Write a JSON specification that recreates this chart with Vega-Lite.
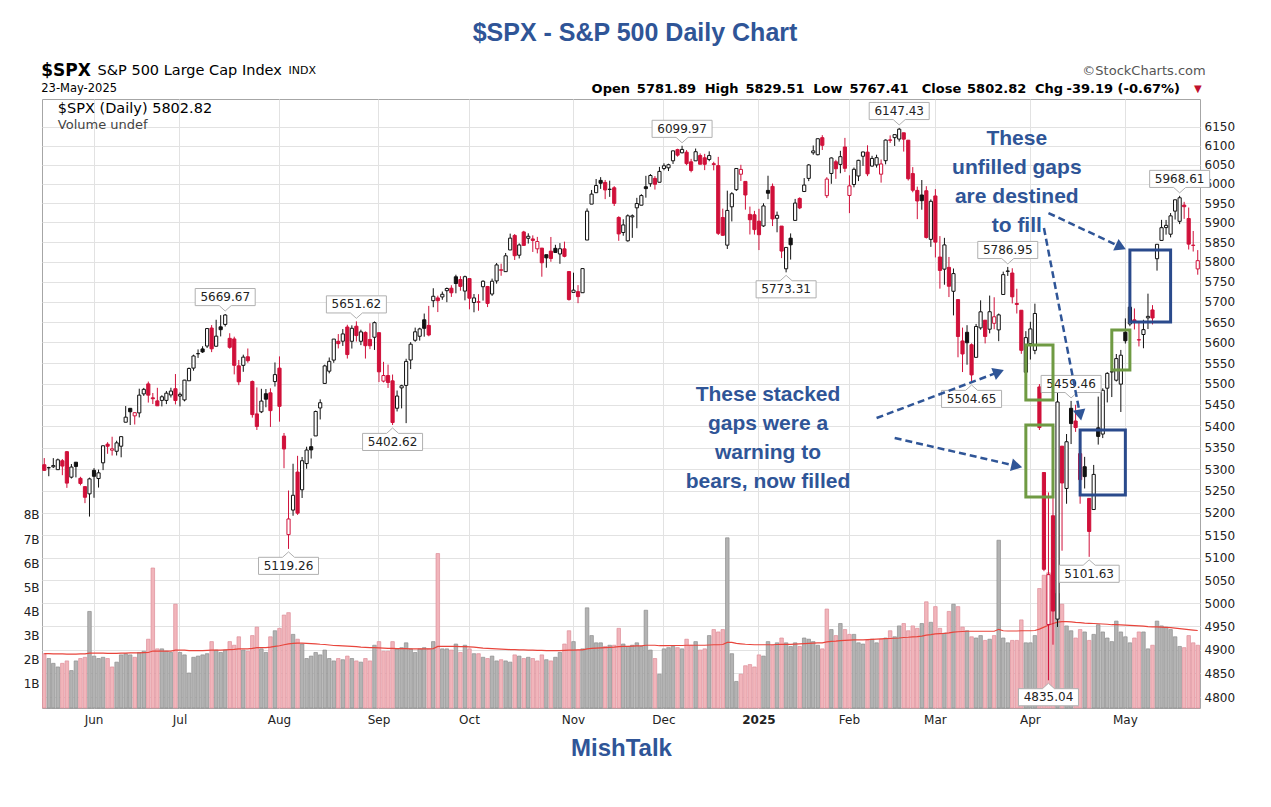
{
"$schema":"https://vega.github.io/schema/vega-lite/v6.json",
"width":1158,"height":609,
"autosize":{"type":"none"},
"padding":{"left":42,"top":99,"right":71,"bottom":99},
"background":"white",
"config":{"view":{"stroke":"#a6a6a6","strokeWidth":1},"font":"DejaVu Sans"},
"title":{"text":"$SPX - S&P 500 Daily Chart","font":"Liberation Sans","fontSize":25,"fontWeight":"bold","color":"#2F5597","anchor":"middle","dx":14,"offset":16},
"datasets":{"spx":[
{"d":"2024-05-16","o":5310.07,"h":5325.49,"l":5296.19,"c":5297.10,"v":2.25,"m":2.25},
{"d":"2024-05-17","o":5303.10,"h":5305.45,"l":5283.59,"c":5303.27,"v":2.05,"m":2.25},
{"d":"2024-05-20","o":5305.35,"h":5325.32,"l":5302.40,"c":5308.13,"v":1.85,"m":2.24},
{"d":"2024-05-21","o":5298.69,"h":5324.32,"l":5297.87,"c":5321.41,"v":1.7,"m":2.24},
{"d":"2024-05-22","o":5319.28,"h":5323.18,"l":5286.01,"c":5307.01,"v":1.85,"m":2.24},
{"d":"2024-05-23","o":5340.26,"h":5341.88,"l":5256.93,"c":5267.84,"v":1.95,"m":2.23},
{"d":"2024-05-24","o":5281.45,"h":5311.65,"l":5278.39,"c":5304.72,"v":1.55,"m":2.23},
{"d":"2024-05-28","o":5315.91,"h":5315.91,"l":5280.89,"c":5306.04,"v":1.95,"m":2.23},
{"d":"2024-05-29","o":5278.73,"h":5282.26,"l":5262.70,"c":5266.95,"v":2.05,"m":2.24},
{"d":"2024-05-30","o":5259.77,"h":5260.21,"l":5222.10,"c":5235.48,"v":2.1,"m":2.24},
{"d":"2024-05-31","o":5243.21,"h":5280.33,"l":5191.68,"c":5277.51,"v":4.0,"m":2.27},
{"d":"2024-06-03","o":5297.15,"h":5302.11,"l":5234.32,"c":5283.40,"v":2.15,"m":2.27},
{"d":"2024-06-04","o":5278.24,"h":5298.80,"l":5257.63,"c":5291.34,"v":2.05,"m":2.27},
{"d":"2024-06-05","o":5314.48,"h":5354.16,"l":5297.64,"c":5354.03,"v":2.1,"m":2.27},
{"d":"2024-06-06","o":5357.80,"h":5362.35,"l":5335.36,"c":5352.96,"v":2.05,"m":2.26},
{"d":"2024-06-07","o":5343.81,"h":5375.08,"l":5331.33,"c":5346.99,"v":1.7,"m":2.26},
{"d":"2024-06-10","o":5341.22,"h":5365.79,"l":5331.52,"c":5360.79,"v":1.9,"m":2.26},
{"d":"2024-06-11","o":5353.00,"h":5375.95,"l":5327.25,"c":5375.32,"v":2.2,"m":2.27},
{"d":"2024-06-12","o":5409.13,"h":5447.25,"l":5409.13,"c":5421.03,"v":2.25,"m":2.27},
{"d":"2024-06-13","o":5441.93,"h":5441.93,"l":5402.51,"c":5433.74,"v":2.2,"m":2.28},
{"d":"2024-06-14","o":5424.08,"h":5432.39,"l":5403.75,"c":5431.60,"v":2.1,"m":2.28},
{"d":"2024-06-17","o":5431.11,"h":5488.50,"l":5420.40,"c":5473.23,"v":2.3,"m":2.28},
{"d":"2024-06-18","o":5476.15,"h":5490.38,"l":5471.32,"c":5487.03,"v":2.35,"m":2.29},
{"d":"2024-06-20","o":5499.99,"h":5505.53,"l":5455.56,"c":5473.17,"v":2.85,"m":2.30},
{"d":"2024-06-21","o":5466.77,"h":5478.31,"l":5452.03,"c":5464.62,"v":5.8,"m":2.36},
{"d":"2024-06-24","o":5459.58,"h":5490.66,"l":5447.59,"c":5447.87,"v":2.45,"m":2.36},
{"d":"2024-06-25","o":5460.73,"h":5472.88,"l":5446.56,"c":5469.30,"v":2.45,"m":2.36},
{"d":"2024-06-26","o":5460.71,"h":5483.14,"l":5451.87,"c":5477.90,"v":2.35,"m":2.36},
{"d":"2024-06-27","o":5473.59,"h":5490.81,"l":5467.54,"c":5482.87,"v":2.3,"m":2.36},
{"d":"2024-06-28","o":5488.48,"h":5523.64,"l":5451.12,"c":5460.48,"v":4.3,"m":2.40},
{"d":"2024-07-01","o":5471.08,"h":5479.55,"l":5446.53,"c":5475.09,"v":2.3,"m":2.40},
{"d":"2024-07-02","o":5461.84,"h":5509.69,"l":5458.43,"c":5509.01,"v":2.2,"m":2.40},
{"d":"2024-07-03","o":5507.44,"h":5539.27,"l":5507.42,"c":5537.02,"v":1.45,"m":2.38},
{"d":"2024-07-05","o":5537.91,"h":5570.33,"l":5531.63,"c":5567.19,"v":2.1,"m":2.38},
{"d":"2024-07-08","o":5572.75,"h":5583.11,"l":5562.51,"c":5572.85,"v":2.15,"m":2.38},
{"d":"2024-07-09","o":5584.24,"h":5590.75,"l":5574.57,"c":5576.98,"v":2.2,"m":2.38},
{"d":"2024-07-10","o":5591.26,"h":5635.39,"l":5586.44,"c":5633.91,"v":2.25,"m":2.39},
{"d":"2024-07-11","o":5635.21,"h":5642.45,"l":5576.53,"c":5584.54,"v":2.75,"m":2.40},
{"d":"2024-07-12","o":5590.76,"h":5655.56,"l":5590.44,"c":5615.35,"v":2.4,"m":2.40},
{"d":"2024-07-15","o":5638.16,"h":5666.94,"l":5614.75,"c":5631.22,"v":2.3,"m":2.40},
{"d":"2024-07-16","o":5644.09,"h":5669.67,"l":5639.02,"c":5667.20,"v":2.4,"m":2.41},
{"d":"2024-07-17","o":5610.07,"h":5622.49,"l":5584.81,"c":5588.27,"v":2.75,"m":2.42},
{"d":"2024-07-18","o":5608.56,"h":5614.05,"l":5522.81,"c":5544.59,"v":2.6,"m":2.43},
{"d":"2024-07-19","o":5543.37,"h":5557.50,"l":5497.04,"c":5505.00,"v":2.95,"m":2.45},
{"d":"2024-07-22","o":5544.54,"h":5570.36,"l":5529.04,"c":5564.41,"v":2.4,"m":2.45},
{"d":"2024-07-23","o":5565.30,"h":5585.34,"l":5550.90,"c":5555.74,"v":2.35,"m":2.45},
{"d":"2024-07-24","o":5505.84,"h":5508.04,"l":5419.98,"c":5427.13,"v":3.0,"m":2.47},
{"d":"2024-07-25","o":5428.70,"h":5491.59,"l":5390.95,"c":5399.22,"v":3.35,"m":2.50},
{"d":"2024-07-26","o":5433.67,"h":5488.32,"l":5430.70,"c":5459.10,"v":2.45,"m":2.50},
{"d":"2024-07-29","o":5476.55,"h":5487.74,"l":5444.44,"c":5463.54,"v":2.3,"m":2.50},
{"d":"2024-07-30","o":5478.73,"h":5489.46,"l":5398.11,"c":5436.44,"v":2.95,"m":2.52},
{"d":"2024-07-31","o":5505.59,"h":5551.51,"l":5493.75,"c":5522.30,"v":3.2,"m":2.55},
{"d":"2024-08-01","o":5537.84,"h":5566.16,"l":5410.42,"c":5446.68,"v":3.3,"m":2.58},
{"d":"2024-08-02","o":5376.63,"h":5383.89,"l":5302.03,"c":5346.56,"v":3.85,"m":2.62},
{"d":"2024-08-05","o":5151.14,"h":5250.89,"l":5119.26,"c":5186.33,"v":3.95,"m":2.66},
{"d":"2024-08-06","o":5206.42,"h":5312.34,"l":5193.56,"c":5240.03,"v":3.05,"m":2.68},
{"d":"2024-08-07","o":5293.13,"h":5330.64,"l":5195.54,"c":5199.50,"v":2.85,"m":2.69},
{"d":"2024-08-08","o":5252.57,"h":5328.03,"l":5233.85,"c":5319.31,"v":2.65,"m":2.69},
{"d":"2024-08-09","o":5312.70,"h":5351.79,"l":5300.86,"c":5344.16,"v":2.05,"m":2.68},
{"d":"2024-08-12","o":5351.88,"h":5371.20,"l":5324.37,"c":5344.39,"v":2.15,"m":2.67},
{"d":"2024-08-13","o":5376.98,"h":5436.50,"l":5376.98,"c":5434.43,"v":2.3,"m":2.66},
{"d":"2024-08-14","o":5442.74,"h":5463.22,"l":5415.60,"c":5455.21,"v":2.2,"m":2.64},
{"d":"2024-08-15","o":5501.13,"h":5546.23,"l":5501.13,"c":5543.22,"v":2.4,"m":2.63},
{"d":"2024-08-16","o":5530.50,"h":5563.51,"l":5525.27,"c":5554.25,"v":2.05,"m":2.61},
{"d":"2024-08-19","o":5557.23,"h":5608.30,"l":5550.74,"c":5608.25,"v":1.95,"m":2.59},
{"d":"2024-08-20","o":5602.88,"h":5620.51,"l":5585.50,"c":5597.12,"v":2.05,"m":2.58},
{"d":"2024-08-21","o":5603.09,"h":5632.68,"l":5591.57,"c":5620.85,"v":2.0,"m":2.57},
{"d":"2024-08-22","o":5637.77,"h":5643.22,"l":5560.95,"c":5570.64,"v":2.15,"m":2.56},
{"d":"2024-08-23","o":5602.89,"h":5641.82,"l":5585.16,"c":5634.61,"v":2.05,"m":2.55},
{"d":"2024-08-26","o":5639.66,"h":5651.62,"l":5602.34,"c":5616.84,"v":1.95,"m":2.54},
{"d":"2024-08-27","o":5602.89,"h":5631.18,"l":5593.48,"c":5625.80,"v":1.9,"m":2.52},
{"d":"2024-08-28","o":5624.51,"h":5627.03,"l":5560.95,"c":5592.18,"v":2.05,"m":2.51},
{"d":"2024-08-29","o":5607.30,"h":5646.95,"l":5583.71,"c":5591.96,"v":1.95,"m":2.50},
{"d":"2024-08-30","o":5612.74,"h":5651.37,"l":5581.79,"c":5648.40,"v":2.6,"m":2.50},
{"d":"2024-09-03","o":5623.89,"h":5623.89,"l":5504.33,"c":5528.93,"v":2.75,"m":2.49},
{"d":"2024-09-04","o":5506.68,"h":5552.99,"l":5503.66,"c":5520.07,"v":2.35,"m":2.48},
{"d":"2024-09-05","o":5520.08,"h":5546.30,"l":5490.38,"c":5503.41,"v":2.35,"m":2.47},
{"d":"2024-09-06","o":5507.33,"h":5522.47,"l":5402.62,"c":5408.42,"v":2.75,"m":2.47},
{"d":"2024-09-09","o":5442.07,"h":5484.20,"l":5434.49,"c":5471.05,"v":2.45,"m":2.46},
{"d":"2024-09-10","o":5490.51,"h":5497.91,"l":5441.72,"c":5495.52,"v":2.5,"m":2.46},
{"d":"2024-09-11","o":5496.42,"h":5560.41,"l":5406.96,"c":5554.13,"v":2.7,"m":2.46},
{"d":"2024-09-12","o":5557.48,"h":5600.71,"l":5535.50,"c":5595.76,"v":2.45,"m":2.45},
{"d":"2024-09-13","o":5605.34,"h":5636.27,"l":5601.65,"c":5626.02,"v":2.3,"m":2.45},
{"d":"2024-09-16","o":5615.14,"h":5636.05,"l":5604.53,"c":5633.09,"v":2.45,"m":2.45},
{"d":"2024-09-17","o":5655.51,"h":5670.81,"l":5614.05,"c":5634.58,"v":2.5,"m":2.45},
{"d":"2024-09-18","o":5641.68,"h":5689.75,"l":5615.08,"c":5618.26,"v":2.45,"m":2.45},
{"d":"2024-09-19","o":5702.63,"h":5733.57,"l":5686.42,"c":5713.64,"v":2.75,"m":2.46},
{"d":"2024-09-20","o":5709.48,"h":5715.14,"l":5674.49,"c":5702.55,"v":6.4,"m":2.55},
{"d":"2024-09-23","o":5711.90,"h":5725.36,"l":5704.94,"c":5718.57,"v":2.45,"m":2.55},
{"d":"2024-09-24","o":5727.49,"h":5735.32,"l":5698.99,"c":5732.93,"v":2.45,"m":2.55},
{"d":"2024-09-25","o":5733.65,"h":5741.03,"l":5712.06,"c":5722.26,"v":2.4,"m":2.55},
{"d":"2024-09-26","o":5762.22,"h":5767.37,"l":5721.01,"c":5745.37,"v":2.65,"m":2.55},
{"d":"2024-09-27","o":5755.36,"h":5763.78,"l":5727.34,"c":5738.17,"v":2.3,"m":2.54},
{"d":"2024-09-30","o":5726.52,"h":5765.14,"l":5703.53,"c":5762.48,"v":2.6,"m":2.54},
{"d":"2024-10-01","o":5757.73,"h":5757.73,"l":5681.28,"c":5708.75,"v":2.45,"m":2.53},
{"d":"2024-10-02","o":5698.19,"h":5719.14,"l":5674.00,"c":5709.54,"v":2.25,"m":2.52},
{"d":"2024-10-03","o":5698.72,"h":5718.78,"l":5677.81,"c":5699.94,"v":2.25,"m":2.50},
{"d":"2024-10-04","o":5737.42,"h":5753.36,"l":5702.83,"c":5751.07,"v":2.1,"m":2.48},
{"d":"2024-10-07","o":5737.80,"h":5739.34,"l":5686.85,"c":5695.94,"v":2.05,"m":2.47},
{"d":"2024-10-08","o":5719.14,"h":5757.60,"l":5714.56,"c":5751.13,"v":2.15,"m":2.46},
{"d":"2024-10-09","o":5751.80,"h":5796.80,"l":5745.02,"c":5792.04,"v":1.95,"m":2.45},
{"d":"2024-10-10","o":5778.36,"h":5795.03,"l":5764.76,"c":5780.05,"v":2.0,"m":2.44},
{"d":"2024-10-11","o":5775.09,"h":5822.13,"l":5775.09,"c":5815.03,"v":1.95,"m":2.43},
{"d":"2024-10-14","o":5829.81,"h":5871.41,"l":5829.81,"c":5859.85,"v":1.9,"m":2.42},
{"d":"2024-10-15","o":5866.74,"h":5870.36,"l":5804.48,"c":5815.26,"v":2.2,"m":2.42},
{"d":"2024-10-16","o":5816.58,"h":5846.52,"l":5808.34,"c":5842.47,"v":2.15,"m":2.41},
{"d":"2024-10-17","o":5875.62,"h":5878.46,"l":5840.25,"c":5841.47,"v":2.05,"m":2.41},
{"d":"2024-10-18","o":5859.43,"h":5872.17,"l":5846.11,"c":5864.67,"v":2.1,"m":2.40},
{"d":"2024-10-21","o":5857.82,"h":5866.92,"l":5824.76,"c":5853.98,"v":2.05,"m":2.40},
{"d":"2024-10-22","o":5832.70,"h":5863.04,"l":5821.17,"c":5851.20,"v":1.95,"m":2.39},
{"d":"2024-10-23","o":5834.50,"h":5834.85,"l":5762.41,"c":5797.42,"v":2.2,"m":2.39},
{"d":"2024-10-24","o":5817.80,"h":5817.80,"l":5784.92,"c":5809.86,"v":2.0,"m":2.38},
{"d":"2024-10-25","o":5826.75,"h":5862.82,"l":5799.98,"c":5808.12,"v":1.95,"m":2.38},
{"d":"2024-10-28","o":5833.93,"h":5842.92,"l":5823.08,"c":5823.52,"v":2.1,"m":2.38},
{"d":"2024-10-29","o":5819.68,"h":5847.19,"l":5794.86,"c":5832.92,"v":2.3,"m":2.38},
{"d":"2024-10-30","o":5832.65,"h":5850.94,"l":5811.28,"c":5813.67,"v":2.65,"m":2.39},
{"d":"2024-10-31","o":5775.34,"h":5775.34,"l":5702.86,"c":5705.45,"v":3.2,"m":2.40},
{"d":"2024-11-01","o":5723.22,"h":5772.52,"l":5723.22,"c":5728.80,"v":2.75,"m":2.40},
{"d":"2024-11-04","o":5725.15,"h":5741.43,"l":5696.51,"c":5712.69,"v":2.4,"m":2.41},
{"d":"2024-11-05","o":5722.43,"h":5783.44,"l":5722.10,"c":5782.76,"v":2.45,"m":2.41},
{"d":"2024-11-06","o":5855.02,"h":5936.14,"l":5855.02,"c":5929.04,"v":4.15,"m":2.45},
{"d":"2024-11-07","o":5947.21,"h":5983.84,"l":5947.21,"c":5973.10,"v":3.0,"m":2.47},
{"d":"2024-11-08","o":5976.76,"h":6012.45,"l":5976.76,"c":5995.54,"v":2.7,"m":2.48},
{"d":"2024-11-11","o":6008.86,"h":6017.31,"l":5986.69,"c":6001.35,"v":2.7,"m":2.49},
{"d":"2024-11-12","o":6003.60,"h":6009.92,"l":5960.08,"c":5983.99,"v":2.55,"m":2.50},
{"d":"2024-11-13","o":5985.75,"h":6008.19,"l":5965.91,"c":5985.38,"v":2.6,"m":2.51},
{"d":"2024-11-14","o":5989.58,"h":5993.88,"l":5942.28,"c":5949.17,"v":2.6,"m":2.52},
{"d":"2024-11-15","o":5912.79,"h":5915.79,"l":5853.01,"c":5870.62,"v":3.3,"m":2.54},
{"d":"2024-11-18","o":5874.17,"h":5908.12,"l":5865.95,"c":5893.62,"v":2.65,"m":2.55},
{"d":"2024-11-19","o":5853.08,"h":5920.67,"l":5850.89,"c":5916.98,"v":2.55,"m":2.55},
{"d":"2024-11-20","o":5914.21,"h":5920.67,"l":5860.58,"c":5917.11,"v":2.6,"m":2.56},
{"d":"2024-11-21","o":5937.59,"h":5963.44,"l":5885.12,"c":5948.71,"v":2.7,"m":2.57},
{"d":"2024-11-22","o":5944.36,"h":5972.90,"l":5944.36,"c":5969.34,"v":2.55,"m":2.57},
{"d":"2024-11-25","o":5992.28,"h":6020.75,"l":5963.91,"c":5987.37,"v":4.05,"m":2.60},
{"d":"2024-11-26","o":6000.03,"h":6025.42,"l":5992.27,"c":6021.63,"v":2.4,"m":2.60},
{"d":"2024-11-27","o":6014.11,"h":6020.16,"l":5984.87,"c":5998.74,"v":2.05,"m":2.60},
{"d":"2024-11-29","o":6003.98,"h":6044.17,"l":6003.98,"c":6032.38,"v":1.4,"m":2.58},
{"d":"2024-12-02","o":6040.11,"h":6053.58,"l":6035.33,"c":6047.15,"v":2.45,"m":2.58},
{"d":"2024-12-03","o":6041.79,"h":6052.56,"l":6033.31,"c":6049.88,"v":2.5,"m":2.58},
{"d":"2024-12-04","o":6060.28,"h":6086.97,"l":6051.97,"c":6086.49,"v":2.55,"m":2.59},
{"d":"2024-12-05","o":6089.84,"h":6092.09,"l":6071.23,"c":6075.11,"v":2.5,"m":2.59},
{"d":"2024-12-06","o":6081.38,"h":6099.97,"l":6079.98,"c":6090.27,"v":2.45,"m":2.59},
{"d":"2024-12-09","o":6083.01,"h":6088.51,"l":6048.63,"c":6052.85,"v":2.85,"m":2.60},
{"d":"2024-12-10","o":6057.59,"h":6065.40,"l":6029.89,"c":6034.91,"v":2.6,"m":2.60},
{"d":"2024-12-11","o":6060.14,"h":6092.59,"l":6060.14,"c":6084.19,"v":2.75,"m":2.60},
{"d":"2024-12-12","o":6074.29,"h":6079.68,"l":6051.25,"c":6051.25,"v":2.4,"m":2.60},
{"d":"2024-12-13","o":6068.17,"h":6078.58,"l":6035.77,"c":6051.09,"v":2.45,"m":2.60},
{"d":"2024-12-16","o":6063.79,"h":6085.19,"l":6059.14,"c":6074.08,"v":3.0,"m":2.61},
{"d":"2024-12-17","o":6052.55,"h":6057.68,"l":6035.19,"c":6050.61,"v":3.25,"m":2.62},
{"d":"2024-12-18","o":6047.65,"h":6070.67,"l":5867.79,"c":5872.16,"v":3.15,"m":2.62},
{"d":"2024-12-19","o":5912.71,"h":5935.52,"l":5866.07,"c":5867.08,"v":3.25,"m":2.63},
{"d":"2024-12-20","o":5842.00,"h":5982.06,"l":5832.30,"c":5930.85,"v":7.05,"m":2.72},
{"d":"2024-12-23","o":5940.25,"h":5978.25,"l":5902.57,"c":5974.07,"v":2.25,"m":2.72},
{"d":"2024-12-24","o":5984.63,"h":6040.10,"l":5981.44,"c":6040.04,"v":1.1,"m":2.68},
{"d":"2024-12-26","o":6024.97,"h":6049.75,"l":6007.37,"c":6037.59,"v":1.4,"m":2.66},
{"d":"2024-12-27","o":6006.17,"h":6006.17,"l":5932.95,"c":5970.84,"v":1.75,"m":2.64},
{"d":"2024-12-30","o":5920.67,"h":5940.79,"l":5869.16,"c":5906.94,"v":1.8,"m":2.63},
{"d":"2024-12-31","o":5919.74,"h":5929.74,"l":5868.86,"c":5881.63,"v":1.7,"m":2.62},
{"d":"2025-01-02","o":5903.26,"h":5935.09,"l":5829.53,"c":5868.55,"v":2.2,"m":2.62},
{"d":"2025-01-03","o":5891.07,"h":5949.34,"l":5888.66,"c":5942.47,"v":2.15,"m":2.62},
{"d":"2025-01-06","o":5982.81,"h":6021.04,"l":5960.01,"c":5975.38,"v":2.75,"m":2.62},
{"d":"2025-01-07","o":5993.26,"h":6000.68,"l":5890.68,"c":5909.03,"v":2.6,"m":2.62},
{"d":"2025-01-08","o":5910.66,"h":5927.89,"l":5874.78,"c":5918.25,"v":2.7,"m":2.63},
{"d":"2025-01-10","o":5890.66,"h":5890.66,"l":5809.22,"c":5827.04,"v":2.9,"m":2.64},
{"d":"2025-01-13","o":5782.30,"h":5836.56,"l":5773.31,"c":5836.22,"v":2.7,"m":2.64},
{"d":"2025-01-14","o":5859.84,"h":5871.92,"l":5805.51,"c":5842.91,"v":2.55,"m":2.64},
{"d":"2025-01-15","o":5905.24,"h":5960.61,"l":5905.24,"c":5949.91,"v":2.7,"m":2.65},
{"d":"2025-01-16","o":5961.90,"h":5964.69,"l":5934.23,"c":5937.34,"v":2.55,"m":2.66},
{"d":"2025-01-17","o":5979.87,"h":6014.96,"l":5978.44,"c":5996.66,"v":2.9,"m":2.67},
{"d":"2025-01-21","o":6014.12,"h":6051.51,"l":6006.88,"c":6049.24,"v":2.85,"m":2.68},
{"d":"2025-01-22","o":6081.39,"h":6100.81,"l":6076.13,"c":6086.37,"v":2.75,"m":2.69},
{"d":"2025-01-23","o":6076.32,"h":6118.73,"l":6074.67,"c":6118.71,"v":2.6,"m":2.70},
{"d":"2025-01-24","o":6121.43,"h":6128.18,"l":6088.74,"c":6101.24,"v":2.45,"m":2.70},
{"d":"2025-01-27","o":5969.04,"h":6017.17,"l":5962.92,"c":6012.28,"v":4.1,"m":2.74},
{"d":"2025-01-28","o":6026.97,"h":6069.32,"l":6000.00,"c":6067.70,"v":3.25,"m":2.76},
{"d":"2025-01-29","o":6057.70,"h":6062.83,"l":6012.96,"c":6039.31,"v":3.0,"m":2.77},
{"d":"2025-01-30","o":6050.75,"h":6086.64,"l":6027.46,"c":6071.17,"v":3.5,"m":2.79},
{"d":"2025-01-31","o":6096.79,"h":6120.91,"l":6030.93,"c":6040.53,"v":3.25,"m":2.80},
{"d":"2025-02-03","o":5969.65,"h":6022.13,"l":5923.93,"c":5994.57,"v":3.05,"m":2.81},
{"d":"2025-02-04","o":5998.14,"h":6042.48,"l":5990.87,"c":6037.88,"v":3.05,"m":2.82},
{"d":"2025-02-05","o":6020.45,"h":6062.86,"l":6007.06,"c":6061.48,"v":2.7,"m":2.82},
{"d":"2025-02-06","o":6072.22,"h":6084.03,"l":6046.83,"c":6083.57,"v":2.65,"m":2.82},
{"d":"2025-02-07","o":6083.13,"h":6101.28,"l":6019.96,"c":6025.99,"v":2.8,"m":2.83},
{"d":"2025-02-10","o":6046.40,"h":6073.38,"l":6044.84,"c":6066.44,"v":2.85,"m":2.84},
{"d":"2025-02-11","o":6049.32,"h":6076.28,"l":6042.34,"c":6068.50,"v":2.7,"m":2.85},
{"d":"2025-02-12","o":6025.08,"h":6063.63,"l":6003.00,"c":6051.97,"v":2.85,"m":2.86},
{"d":"2025-02-13","o":6060.59,"h":6116.91,"l":6050.95,"c":6115.07,"v":2.9,"m":2.87},
{"d":"2025-02-14","o":6115.52,"h":6127.47,"l":6107.62,"c":6114.63,"v":3.2,"m":2.88},
{"d":"2025-02-18","o":6121.60,"h":6129.63,"l":6099.51,"c":6129.58,"v":2.95,"m":2.89},
{"d":"2025-02-19","o":6117.76,"h":6147.43,"l":6111.15,"c":6144.15,"v":3.4,"m":2.90},
{"d":"2025-02-20","o":6134.50,"h":6134.50,"l":6084.59,"c":6117.52,"v":3.5,"m":2.92},
{"d":"2025-02-21","o":6114.82,"h":6114.82,"l":6008.56,"c":6013.13,"v":3.2,"m":2.93},
{"d":"2025-02-24","o":6026.69,"h":6043.65,"l":5977.83,"c":5983.25,"v":3.4,"m":2.95},
{"d":"2025-02-25","o":5982.73,"h":5992.65,"l":5908.49,"c":5955.25,"v":3.3,"m":2.96},
{"d":"2025-02-26","o":5970.87,"h":6009.82,"l":5932.69,"c":5956.06,"v":3.5,"m":2.98},
{"d":"2025-02-27","o":5981.88,"h":5993.69,"l":5858.78,"c":5861.57,"v":4.4,"m":3.02},
{"d":"2025-02-28","o":5856.74,"h":5959.40,"l":5837.66,"c":5954.50,"v":3.55,"m":3.04},
{"d":"2025-03-03","o":5968.33,"h":5986.09,"l":5810.91,"c":5849.72,"v":4.2,"m":3.07},
{"d":"2025-03-04","o":5811.98,"h":5865.08,"l":5732.59,"c":5778.15,"v":3.3,"m":3.08},
{"d":"2025-03-05","o":5781.38,"h":5860.59,"l":5742.35,"c":5842.63,"v":3.1,"m":3.09},
{"d":"2025-03-06","o":5785.87,"h":5812.08,"l":5711.64,"c":5738.52,"v":4.0,"m":3.11},
{"d":"2025-03-07","o":5726.01,"h":5783.01,"l":5666.29,"c":5770.20,"v":4.3,"m":3.14},
{"d":"2025-03-10","o":5705.37,"h":5705.37,"l":5564.02,"c":5614.56,"v":4.2,"m":3.16},
{"d":"2025-03-11","o":5603.65,"h":5636.30,"l":5528.41,"c":5572.07,"v":3.35,"m":3.17},
{"d":"2025-03-12","o":5624.84,"h":5642.19,"l":5546.09,"c":5599.30,"v":3.2,"m":3.18},
{"d":"2025-03-13","o":5594.45,"h":5597.78,"l":5504.65,"c":5521.52,"v":2.95,"m":3.18},
{"d":"2025-03-14","o":5563.85,"h":5645.27,"l":5563.85,"c":5638.94,"v":2.9,"m":3.18},
{"d":"2025-03-17","o":5635.60,"h":5703.52,"l":5631.12,"c":5675.12,"v":3.0,"m":3.18},
{"d":"2025-03-18","o":5654.53,"h":5654.53,"l":5597.76,"c":5614.66,"v":2.8,"m":3.18},
{"d":"2025-03-19","o":5632.37,"h":5715.33,"l":5622.20,"c":5675.29,"v":2.85,"m":3.18},
{"d":"2025-03-20","o":5646.92,"h":5711.15,"l":5632.33,"c":5662.89,"v":3.0,"m":3.18},
{"d":"2025-03-21","o":5630.73,"h":5670.84,"l":5603.10,"c":5667.56,"v":6.95,"m":3.26},
{"d":"2025-03-24","o":5718.08,"h":5775.14,"l":5718.08,"c":5767.57,"v":2.9,"m":3.20},
{"d":"2025-03-25","o":5775.86,"h":5786.95,"l":5764.44,"c":5776.65,"v":2.7,"m":3.19},
{"d":"2025-03-26","o":5771.66,"h":5783.62,"l":5695.87,"c":5712.20,"v":2.8,"m":3.19},
{"d":"2025-03-27","o":5695.64,"h":5732.28,"l":5670.94,"c":5693.31,"v":2.8,"m":3.19},
{"d":"2025-03-28","o":5679.00,"h":5679.00,"l":5572.42,"c":5580.94,"v":3.65,"m":3.20},
{"d":"2025-03-31","o":5527.91,"h":5627.56,"l":5488.73,"c":5611.85,"v":2.7,"m":3.20},
{"d":"2025-04-01","o":5597.53,"h":5650.57,"l":5558.52,"c":5633.07,"v":2.7,"m":3.20},
{"d":"2025-04-02","o":5580.76,"h":5695.31,"l":5571.48,"c":5670.97,"v":3.0,"m":3.21},
{"d":"2025-04-03","o":5492.74,"h":5499.53,"l":5390.83,"c":5396.52,"v":4.95,"m":3.27},
{"d":"2025-04-04","o":5292.14,"h":5292.14,"l":5069.90,"c":5074.08,"v":5.5,"m":3.35},
{"d":"2025-04-07","o":4953.79,"h":5246.57,"l":4835.04,"c":5062.25,"v":5.6,"m":3.43},
{"d":"2025-04-08","o":5193.57,"h":5267.47,"l":4910.42,"c":4982.77,"v":4.9,"m":3.50},
{"d":"2025-04-09","o":4965.28,"h":5481.34,"l":4948.43,"c":5456.90,"v":4.75,"m":3.56},
{"d":"2025-04-10","o":5353.15,"h":5353.15,"l":5115.27,"c":5268.05,"v":4.3,"m":3.58},
{"d":"2025-04-11","o":5255.56,"h":5381.46,"l":5220.77,"c":5363.36,"v":3.4,"m":3.58},
{"d":"2025-04-14","o":5441.96,"h":5459.46,"l":5358.02,"c":5405.97,"v":3.2,"m":3.57},
{"d":"2025-04-15","o":5411.99,"h":5450.41,"l":5386.44,"c":5396.63,"v":2.9,"m":3.55},
{"d":"2025-04-16","o":5335.75,"h":5367.24,"l":5220.79,"c":5275.70,"v":3.25,"m":3.54},
{"d":"2025-04-17","o":5305.45,"h":5328.31,"l":5255.58,"c":5282.70,"v":3.15,"m":3.52},
{"d":"2025-04-21","o":5232.94,"h":5232.94,"l":5101.63,"c":5158.20,"v":2.8,"m":3.51},
{"d":"2025-04-22","o":5207.67,"h":5309.60,"l":5207.67,"c":5287.76,"v":3.05,"m":3.50},
{"d":"2025-04-23","o":5395.93,"h":5469.69,"l":5356.76,"c":5375.86,"v":3.45,"m":3.49},
{"d":"2025-04-24","o":5381.38,"h":5489.40,"l":5371.96,"c":5484.77,"v":3.15,"m":3.48},
{"d":"2025-04-25","o":5489.73,"h":5528.11,"l":5455.86,"c":5525.21,"v":2.9,"m":3.47},
{"d":"2025-04-28","o":5529.22,"h":5553.66,"l":5468.64,"c":5528.75,"v":2.75,"m":3.45},
{"d":"2025-04-29","o":5508.87,"h":5571.95,"l":5505.70,"c":5560.83,"v":3.6,"m":3.45},
{"d":"2025-04-30","o":5499.44,"h":5581.84,"l":5433.24,"c":5569.06,"v":3.15,"m":3.44},
{"d":"2025-05-01","o":5625.14,"h":5658.91,"l":5597.35,"c":5604.14,"v":2.95,"m":3.43},
{"d":"2025-05-02","o":5645.09,"h":5700.70,"l":5639.57,"c":5686.67,"v":2.7,"m":3.42},
{"d":"2025-05-05","o":5655.32,"h":5683.48,"l":5631.69,"c":5650.38,"v":2.9,"m":3.41},
{"d":"2025-05-06","o":5605.88,"h":5649.02,"l":5590.28,"c":5606.91,"v":3.15,"m":3.40},
{"d":"2025-05-07","o":5619.42,"h":5655.48,"l":5585.91,"c":5631.28,"v":3.15,"m":3.39},
{"d":"2025-05-08","o":5660.25,"h":5720.10,"l":5632.72,"c":5663.94,"v":2.45,"m":3.37},
{"d":"2025-05-09","o":5679.73,"h":5691.65,"l":5644.05,"c":5659.91,"v":2.6,"m":3.36},
{"d":"2025-05-12","o":5807.65,"h":5844.19,"l":5777.66,"c":5844.19,"v":3.6,"m":3.36},
{"d":"2025-05-13","o":5854.04,"h":5906.63,"l":5853.15,"c":5886.55,"v":3.4,"m":3.35},
{"d":"2025-05-14","o":5886.76,"h":5906.38,"l":5868.76,"c":5892.58,"v":3.35,"m":3.34},
{"d":"2025-05-15","o":5869.90,"h":5924.12,"l":5861.83,"c":5916.93,"v":3.25,"m":3.33},
{"d":"2025-05-16","o":5929.09,"h":5958.62,"l":5907.39,"c":5958.38,"v":2.95,"m":3.31},
{"d":"2025-05-19","o":5902.88,"h":5968.61,"l":5895.69,"c":5963.60,"v":2.55,"m":3.29},
{"d":"2025-05-20","o":5944.66,"h":5953.06,"l":5909.26,"c":5940.46,"v":2.5,"m":3.27},
{"d":"2025-05-21","o":5910.08,"h":5938.37,"l":5830.91,"c":5844.61,"v":3.0,"m":3.25},
{"d":"2025-05-22","o":5841.26,"h":5878.08,"l":5825.82,"c":5842.01,"v":2.7,"m":3.23},
{"d":"2025-05-23","o":5781.89,"h":5829.51,"l":5767.41,"c":5802.82,"v":2.6,"m":3.21}
]},
"data":{"name":"spx"},
"transform":[
{"window":[{"op":"lag","field":"c","as":"pc"}],"sort":[{"field":"d","order":"ascending"}]},
{"calculate":"(datum.pc == null ? datum.c < datum.o : datum.c < datum.pc) ? 'down' : 'up'","as":"dir"}
],
"layer":[
{"layer":[
{"mark":{"type":"bar","width":{"band":0.78},"strokeWidth":0.7},
"encoding":{
"x":{"field":"d","type":"ordinal","scale":{"type":"band","paddingInner":0,"paddingOuter":0},
"axis":{"values":["2024-06-03","2024-07-01","2024-08-01","2024-09-03","2024-10-01","2024-11-01","2024-12-02","2025-01-02","2025-02-03","2025-03-03","2025-04-01","2025-05-01"],
"labelExpr":"utcFormat(toDate(datum.value), '%m') == '01' ? utcFormat(toDate(datum.value), '%Y') : utcFormat(toDate(datum.value), '%b')",
"title":"MishTalk","titleFont":"Liberation Sans","titleFontSize":24,"titleFontWeight":"bold","titleColor":"#2F5597","titlePadding":11,
"labelFont":"DejaVu Sans","labelFontSize":12,"labelColor":"#222222",
"labelFontWeight":{"condition":{"test":"datum.value == '2025-01-02'","value":"bold"},"value":"normal"},
"labelAngle":0,"grid":true,"gridColor":"#e2e2e2","ticks":false,"domain":false,"labelPadding":6,"bandPosition":0.5}},
"y":{"field":"v","type":"quantitative","scale":{"domain":[0,25.23],"nice":false},
"axis":{"orient":"left","values":[1,2,3,4,5,6,7,8],"labelExpr":"datum.value + 'B'","title":null,"grid":false,"domain":false,"ticks":false,"labelPadding":3,"labelFont":"DejaVu Sans","labelFontSize":12,"labelColor":"#222222"}},
"fill":{"field":"dir","type":"nominal","scale":{"domain":["up","down"],"range":["#b3b3b3","#f1b5bb"]},"legend":null},
"stroke":{"field":"dir","type":"nominal","scale":{"domain":["up","down"],"range":["#8e8e8e","#de8e99"]},"legend":null}}},
{"mark":{"type":"line","color":"#e8453c","strokeWidth":1.2},
"encoding":{"x":{"field":"d","type":"ordinal"},"y":{"field":"m","type":"quantitative"}}}
]},
{"layer":[
{"mark":{"type":"rule","strokeWidth":1},
"encoding":{
"x":{"field":"d","type":"ordinal"},
"y":{"field":"l","type":"quantitative","scale":{"type":"log","domain":[4777.1,6225.3],"nice":false,"zero":false},
"axis":{"orient":"right","values":[4800,4850,4900,4950,5000,5050,5100,5150,5200,5250,5300,5350,5400,5450,5500,5550,5600,5650,5700,5750,5800,5850,5900,5950,6000,6050,6100,6150],"format":"d","title":null,"grid":true,"gridColor":"#e2e2e2","domain":false,"ticks":false,"labelPadding":4,"labelFont":"DejaVu Sans","labelFontSize":12,"labelColor":"#222222"}},
"y2":{"field":"h"},
"stroke":{"field":"dir","type":"nominal","scale":{"domain":["up","down"],"range":["#111111","#d0103a"]},"legend":null}}},
{"mark":{"type":"bar","width":{"band":0.7},"strokeWidth":1},
"encoding":{
"x":{"field":"d","type":"ordinal"},
"y":{"field":"o","type":"quantitative"},
"y2":{"field":"c"},
"fill":{"condition":{"test":"datum.c > datum.o","value":"#ffffff"},"field":"dir","type":"nominal","scale":{"domain":["up","down"],"range":["#111111","#d0103a"]},"legend":null},
"stroke":{"field":"dir","type":"nominal","legend":null}}},
{"data":{"values":[{"d":"2024-07-16","p":5669.67,"t":"5669.67"},{"d":"2024-08-26","p":5651.62,"t":"5651.62"},{"d":"2024-12-06","p":6099.97,"t":"6099.97"},{"d":"2025-02-19","p":6147.43,"t":"6147.43"},{"d":"2025-03-25","p":5786.95,"t":"5786.95"},{"d":"2025-04-14","p":5459.46,"t":"5459.46"},{"d":"2025-05-19","p":5968.61,"t":"5968.61"}]},
"layer":[
{"mark":{"type":"point","shape":"M-1,-0.85L1,-0.85L1,-0.28L0.2,-0.28L0,-0.1L-0.2,-0.28L-1,-0.28Z","size":3600,"filled":true,"fill":"#ffffff","stroke":"#b0b0b0","strokeWidth":1,"opacity":1},
"encoding":{"x":{"field":"d","type":"ordinal"},"y":{"field":"p","type":"quantitative"}}},
{"mark":{"type":"text","dy":-17,"font":"DejaVu Sans","fontSize":12,"color":"#222222","baseline":"middle","align":"center"},
"encoding":{"x":{"field":"d","type":"ordinal"},"y":{"field":"p","type":"quantitative"},"text":{"field":"t"}}}
]},
{"data":{"values":[{"d":"2024-08-05","p":5119.26,"t":"5119.26"},{"d":"2024-09-06","p":5402.62,"t":"5402.62"},{"d":"2025-01-13","p":5773.31,"t":"5773.31"},{"d":"2025-03-13","p":5504.65,"t":"5504.65"},{"d":"2025-04-07","p":4835.04,"t":"4835.04"},{"d":"2025-04-21","p":5101.63,"t":"5101.63"}]},
"layer":[
{"mark":{"type":"point","shape":"M-1,0.85L1,0.85L1,0.28L0.2,0.28L0,0.1L-0.2,0.28L-1,0.28Z","size":3600,"filled":true,"fill":"#ffffff","stroke":"#b0b0b0","strokeWidth":1,"opacity":1},
"encoding":{"x":{"field":"d","type":"ordinal"},"y":{"field":"p","type":"quantitative"}}},
{"mark":{"type":"text","dy":17,"font":"DejaVu Sans","fontSize":12,"color":"#222222","baseline":"middle","align":"center"},
"encoding":{"x":{"field":"d","type":"ordinal"},"y":{"field":"p","type":"quantitative"},"text":{"field":"t"}}}
]},
{"data":{"values":[{"d1":"2025-03-31","d2":"2025-04-08","p1":5593.8,"p2":5461.6},{"d1":"2025-03-31","d2":"2025-04-08","p1":5402.5,"p2":5236.0},{"d1":"2025-04-28","d2":"2025-05-02","p1":5630.5,"p2":5533.3}]},
"mark":{"type":"rect","fillOpacity":0,"fill":"#ffffff","stroke":"#6f9a43","strokeWidth":3},
"encoding":{"x":{"field":"d1","type":"ordinal","bandPosition":0.5},"x2":{"field":"d2"},"y":{"field":"p1","type":"quantitative"},"y2":{"field":"p2"}}},
{"data":{"values":[{"d1":"2025-04-16","d2":"2025-05-01","p1":5390.8,"p2":5240.6},{"d1":"2025-05-02","d2":"2025-05-15","p1":5829.7,"p2":5650.1}]},
"mark":{"type":"rect","fillOpacity":0,"fill":"#ffffff","stroke":"#2a4a8c","strokeWidth":3},
"encoding":{"x":{"field":"d1","type":"ordinal","bandPosition":0.5},"x2":{"field":"d2"},"y":{"field":"p1","type":"quantitative"},"y2":{"field":"p2"}}},
{"data":{"values":[{"d1":"2025-04-07","p1":5924.2,"d2":"2025-04-30","p2":5837.3},{"d1":"2025-04-04","p1":5885.7,"d2":"2025-04-16","p2":5426.1},{"d1":"2025-02-11","p1":5419.0,"d2":"2025-03-21","p2":5528.5},{"d1":"2025-02-18","p1":5372.1,"d2":"2025-03-27","p2":5307.1}]},
"mark":{"type":"rule","stroke":"#2F5597","strokeWidth":2.5,"strokeDash":[7,4]},
"encoding":{"x":{"field":"d1","type":"ordinal"},"x2":{"field":"d2"},"y":{"field":"p1","type":"quantitative"},"y2":{"field":"p2"}}},
{"data":{"values":[{"d":"2025-04-30","p":5837.3}]},"mark":{"type":"point","shape":"triangle-up","size":160,"filled":true,"color":"#2F5597","opacity":1,"angle":115},
"encoding":{"x":{"field":"d","type":"ordinal"},"y":{"field":"p","type":"quantitative"}}},
{"data":{"values":[{"d":"2025-04-16","p":5426.1}]},"mark":{"type":"point","shape":"triangle-up","size":160,"filled":true,"color":"#2F5597","opacity":1,"angle":169},
"encoding":{"x":{"field":"d","type":"ordinal"},"y":{"field":"p","type":"quantitative"}}},
{"data":{"values":[{"d":"2025-03-21","p":5528.5}]},"mark":{"type":"point","shape":"triangle-up","size":160,"filled":true,"color":"#2F5597","opacity":1,"angle":69},
"encoding":{"x":{"field":"d","type":"ordinal"},"y":{"field":"p","type":"quantitative"}}},
{"data":{"values":[{"d":"2025-03-27","p":5307.1}]},"mark":{"type":"point","shape":"triangle-up","size":160,"filled":true,"color":"#2F5597","opacity":1,"angle":103},
"encoding":{"x":{"field":"d","type":"ordinal"},"y":{"field":"p","type":"quantitative"}}},
{"data":{"values":[{"d":"2025-01-06","p":5473.5,"t":"These stacked\ngaps were a\nwarning to\nbears, now filled"},{"d":"2025-03-27","p":6118.0,"t":"These\nunfilled gaps\nare destined\nto fill"}]},
"mark":{"type":"text","lineBreak":"\n","lineHeight":29,"font":"Liberation Sans","fontSize":21,"fontWeight":"bold","color":"#2F5597","align":"center","baseline":"middle"},
"encoding":{"x":{"field":"d","type":"ordinal"},"y":{"field":"p","type":"quantitative"},"text":{"field":"t"}}},
{"data":{"values":[{"d":"2024-05-16","p":6301.6,"t":"$SPX"}]},
"mark":{"type":"text","align":"left","baseline":"middle","dx":-3,"font":"DejaVu Sans","fontSize":17,"fontWeight":"bold","color":"#000000"},
"encoding":{"x":{"field":"d","type":"ordinal"},"y":{"field":"p","type":"quantitative"},"text":{"field":"t"}}},
{"data":{"values":[{"d":"2024-06-04","p":6301.6,"t":"S&P 500 Large Cap Index"}]},
"mark":{"type":"text","align":"left","baseline":"middle","dx":-1,"font":"DejaVu Sans","fontSize":14.5,"color":"#000000"},
"encoding":{"x":{"field":"d","type":"ordinal"},"y":{"field":"p","type":"quantitative"},"text":{"field":"t"}}},
{"data":{"values":[{"d":"2024-08-05","p":6301.6,"t":"INDX"}]},
"mark":{"type":"text","align":"left","baseline":"middle","font":"DejaVu Sans","fontSize":11,"color":"#000000"},
"encoding":{"x":{"field":"d","type":"ordinal"},"y":{"field":"p","type":"quantitative"},"text":{"field":"t"}}},
{"data":{"values":[{"d":"2024-05-16","p":6252.5,"t":"23-May-2025"}]},
"mark":{"type":"text","align":"left","baseline":"middle","dx":-3,"font":"DejaVu Sans","fontSize":11.5,"color":"#000000"},
"encoding":{"x":{"field":"d","type":"ordinal"},"y":{"field":"p","type":"quantitative"},"text":{"field":"t"}}},
{"data":{"values":[{"d":"2024-11-07","p":6252.5,"t":"Open"},{"d":"2024-12-13","p":6252.5,"t":"High"},{"d":"2025-01-22","p":6252.5,"t":"Low"},{"d":"2025-02-26","p":6252.5,"t":"Close"},{"d":"2025-04-02","p":6252.5,"t":"Chg"},{"d":"2024-11-21","p":6252.5,"t":"5781.89"},{"d":"2024-12-27","p":6252.5,"t":"5829.51"},{"d":"2025-02-03","p":6252.5,"t":"5767.41"},{"d":"2025-03-12","p":6252.5,"t":"5802.82"},{"d":"2025-04-11","p":6252.5,"t":"-39.19 (-0.67%)"}]},
"mark":{"type":"text","align":"left","baseline":"middle","font":"DejaVu Sans","fontSize":13,"fontWeight":"bold","color":"#000000"},
"encoding":{"x":{"field":"d","type":"ordinal"},"y":{"field":"p","type":"quantitative"},"text":{"field":"t"}}},
{"data":{"values":[{"d":"2025-05-23","p":6252.5,"t":"▼"}]},
"mark":{"type":"text","align":"center","baseline":"middle","font":"DejaVu Sans","fontSize":10,"color":"#c0102e"},
"encoding":{"x":{"field":"d","type":"ordinal"},"y":{"field":"p","type":"quantitative"},"text":{"field":"t"}}},
{"data":{"values":[{"d":"2025-05-23","p":6301.6,"t":"©StockCharts.com"}]},
"mark":{"type":"text","align":"right","baseline":"middle","dx":8,"font":"DejaVu Sans","fontSize":13,"color":"#555555"},
"encoding":{"x":{"field":"d","type":"ordinal"},"y":{"field":"p","type":"quantitative"},"text":{"field":"t"}}},
{"data":{"values":[{"d":"2024-05-21","p":6198.3,"t":"$SPX (Daily) 5802.82"}]},
"mark":{"type":"text","align":"left","baseline":"middle","font":"DejaVu Sans","fontSize":14.5,"color":"#000000"},
"encoding":{"x":{"field":"d","type":"ordinal"},"y":{"field":"p","type":"quantitative"},"text":{"field":"t"}}},
{"data":{"values":[{"d":"2024-05-21","p":6155.3,"t":"Volume undef"}]},
"mark":{"type":"text","align":"left","baseline":"middle","font":"DejaVu Sans","fontSize":13,"color":"#444444"},
"encoding":{"x":{"field":"d","type":"ordinal"},"y":{"field":"p","type":"quantitative"},"text":{"field":"t"}}}
]}
],
"resolve":{"scale":{"y":"independent","fill":"independent","stroke":"independent"}}
}
